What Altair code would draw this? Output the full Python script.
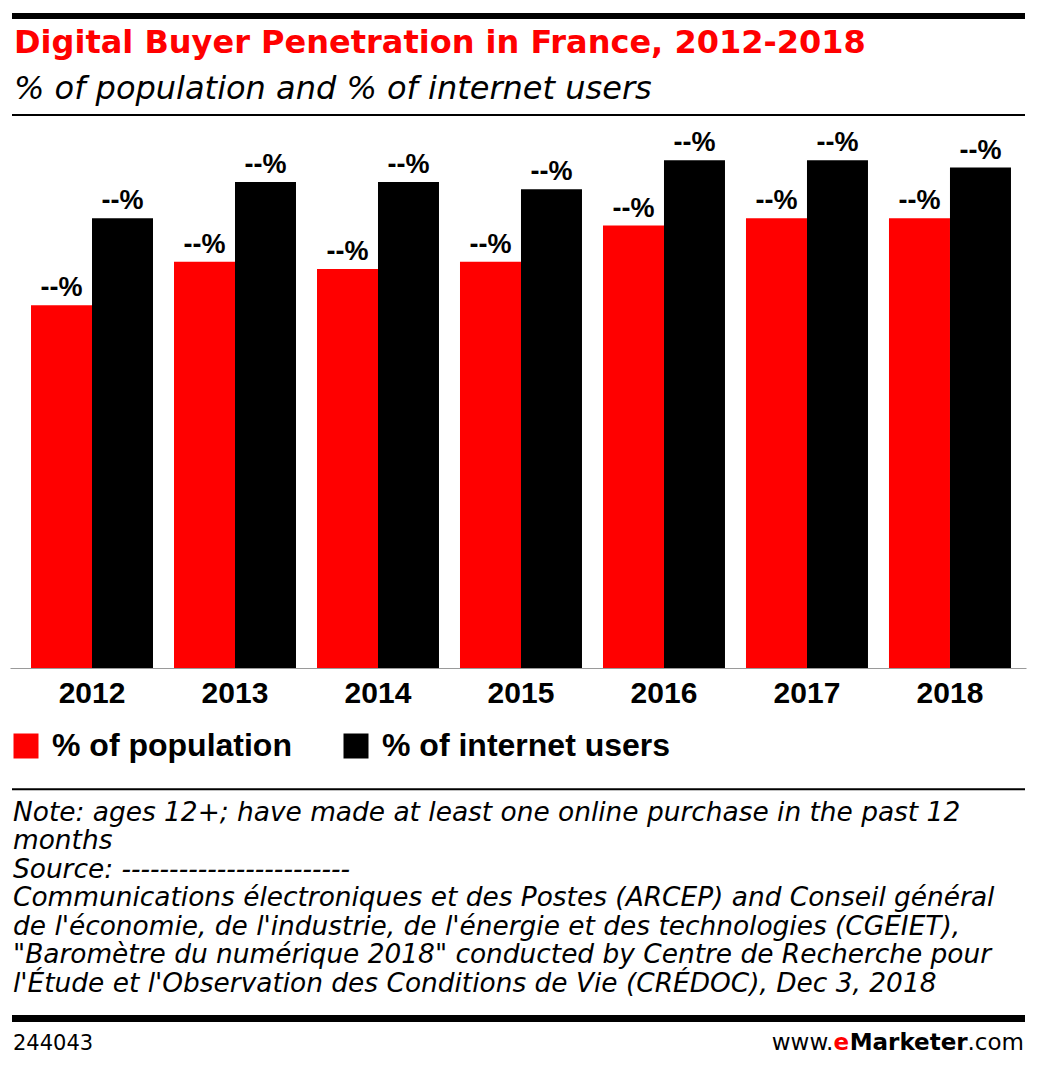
import altair as alt
import pandas as pd

# ---- data ----
years = ["2012", "2013", "2014", "2015", "2016", "2017", "2018"]
series_names = ["% of population", "% of internet users"]
pct_population = [50, 56, 55, 56, 61, 62, 62]
pct_internet_users = [62, 67, 67, 66, 70, 70, 69]
labels_population = ["--%", "--%", "--%", "--%", "--%", "--%", "--%"]
labels_internet_users = ["--%", "--%", "--%", "--%", "--%", "--%", "--%"]
series_colors = ["#ff0000", "#000000"]

title_text = "Digital Buyer Penetration in France, 2012-2018"
subtitle_text = "% of population and % of internet users"
note_lines = [
    "Note: ages 12+; have made at least one online purchase in the past 12",
    "months",
    "Source: ------------------------",
    "Communications électroniques et des Postes (ARCEP) and Conseil général",
    "de l'économie, de l'industrie, de l'énergie et des technologies (CGEIET),",
    "\"Baromètre du numérique 2018\" conducted by Centre de Recherche pour",
    "l'Étude et l'Observation des Conditions de Vie (CRÉDOC), Dec 3, 2018",
]
footer_id = "244043"
brand_parts = ["www.", "e", "Marketer", ".com"]

df = pd.DataFrame({
    "year": years * 2,
    "series": [series_names[0]] * len(years) + [series_names[1]] * len(years),
    "value": pct_population + pct_internet_users,
    "label": labels_population + labels_internet_users,
})

x = alt.X(
    "year:N", sort=years, title=None,
    scale=alt.Scale(paddingInner=0.1469, paddingOuter=0.126, align=0.583),
    axis=alt.Axis(labelFont="Liberation Sans", labelFontSize=30, labelFontWeight="bold",
                  labelColor="#000000", labelAngle=0, ticks=False, tickSize=0,
                  labelPadding=10, domainColor="#9a9a9a", domainWidth=1.2),
)
xo = alt.XOffset("series:N", sort=series_names,
                 scale=alt.Scale(paddingInner=0, paddingOuter=0))
y = alt.Y("value:Q", scale=alt.Scale(domain=[0, 75]), axis=None)
color = alt.Color(
    "series:N",
    scale=alt.Scale(domain=series_names, range=series_colors),
    legend=alt.Legend(
        title=None, orient="none", legendX=0, legendY=606, direction="horizontal",
        symbolType="square", symbolSize=625, symbolStrokeWidth=0, symbolOpacity=1,
        labelFont="Liberation Sans", labelFontSize=32, labelFontWeight="bold",
        labelColor="#000000", labelOffset=10, columnPadding=48, padding=0,
        labelLimit=400,
    ),
)

bars = alt.Chart(df).mark_bar(strokeWidth=0).encode(x=x, xOffset=xo, y=y, color=color)
value_text = alt.Chart(df).mark_text(
    dy=-9, baseline="alphabetic", font="Liberation Sans", fontSize=27,
    fontWeight="bold", color="#000000",
).encode(x=x, xOffset=xo, y=y, text="label:N")


def one(text):
    return pd.DataFrame({"t": [text]})


def text_layer(text, px, py, align="left", **kw):
    return alt.Chart(one(text)).mark_text(align=align, baseline="alphabetic", **kw).encode(
        x=alt.value(px), y=alt.value(py), text="t:N")


def rule_layer(py, width):
    return alt.Chart(one("r")).mark_rule(color="#000000", strokeWidth=width).encode(
        x=alt.value(2), x2=alt.value(1015), y=alt.value(py))


title = text_layer(title_text, 4, -71, font="DejaVu Sans", fontSize=32,
                   fontWeight="bold", color="#ff0000")
subtitle = text_layer(subtitle_text, 4, -25, font="DejaVu Sans", fontSize=32,
                      fontStyle="italic", color="#000000")

notes = alt.Chart(one("n")).mark_text(
    align="left", baseline="alphabetic", font="DejaVu Sans", fontSize=26.4,
    fontStyle="italic", color="#000000", text=note_lines, lineHeight=28.45,
).encode(x=alt.value(3), y=alt.value(697))

fid = text_layer(footer_id, 3, 926, font="DejaVu Sans", fontSize=21, color="#000000")
b_com = text_layer(brand_parts[3], 1014, 926, align="right", font="DejaVu Sans",
                   fontSize=23, color="#000000")
b_mk = text_layer(brand_parts[2], 957.6, 926, align="right", font="DejaVu Sans",
                  fontSize=23, fontWeight="bold", color="#000000")
b_e = text_layer(brand_parts[1], 839, 926, align="right", font="DejaVu Sans",
                 fontSize=23, fontWeight="bold", color="#ff0000")
b_www = text_layer(brand_parts[0], 823.4, 926, align="right", font="DejaVu Sans",
                   fontSize=23, color="#000000")

chart = alt.layer(
    bars, value_text,
    rule_layer(-108, 6), rule_layer(-9, 2), rule_layer(665.3, 2), rule_layer(894.5, 7),
    title, subtitle, notes, fid, b_com, b_mk, b_e, b_www,
).properties(
    width=1016, height=544,
    padding={"left": 2, "top": 116, "right": 4, "bottom": 395},
    autosize="none",
).configure_view(stroke=None)

chart.save("out.html", embed_options={"renderer": "svg", "actions": False})
